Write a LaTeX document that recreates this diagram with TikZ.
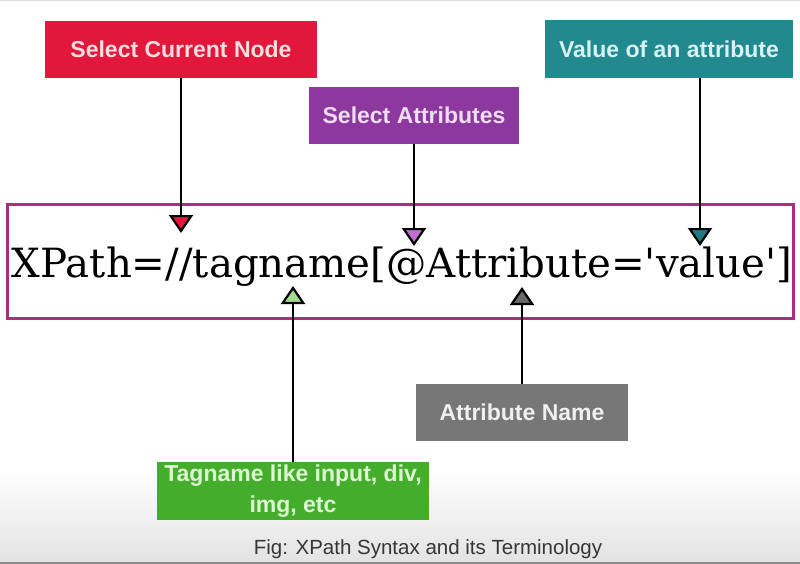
\documentclass[tikz,border=0pt]{standalone}
\usepackage{fontspec}
\usepackage{graphicx}
\usetikzlibrary{arrows.meta}
\newfontfamily\boxfont{Liberation Sans}
\newfontfamily\pathfont{DejaVu Serif}
\definecolor{curred}{HTML}{E1173B}
\definecolor{curredtxt}{HTML}{F8DCE0}
\definecolor{attrpurple}{HTML}{8C389F}
\definecolor{attrpurpletxt}{HTML}{EEDDF3}
\definecolor{attrtip}{HTML}{BE6FD0}
\definecolor{valteal}{HTML}{228A8E}
\definecolor{valtealtxt}{HTML}{D6F3F3}
\definecolor{valtip}{HTML}{1F7C84}
\definecolor{namegray}{HTML}{777777}
\definecolor{namegraytxt}{HTML}{F0F0F0}
\definecolor{nametip}{HTML}{6A6A6A}
\definecolor{taggreen}{HTML}{44AE2C}
\definecolor{taggreentxt}{HTML}{DDF6D2}
\definecolor{tagtip}{HTML}{A3D98E}
\definecolor{framepink}{HTML}{A92E7E}
\definecolor{captiongray}{HTML}{363636}

\begin{document}
\begin{tikzpicture}[x=1pt, y=-1pt,
        tagbox/.style={inner sep=0pt, align=center, minimum height=57pt,
            font=\boxfont\bfseries\fontsize{23pt}{31pt}\selectfont},
        pointer/.style={line width=2.2pt, -{Triangle[width=24pt, length=18pt, fill=#1]}}]
        \useasboundingbox (0, 0) rectangle (800, 564);
        \fill[white] (0, 0) rectangle (800, 564);
        \shade[top color=white, bottom color=black!11] (0, 470) rectangle (800, 562);
        \draw[black!45, line width=1.5pt] (0, 563) -- (800, 563);
        \draw[black!12, line width=1pt] (0, 0.5) -- (800, 0.5);

        \node[draw=framepink, line width=3pt, minimum width=786pt, minimum height=113pt, inner sep=0pt] (frame) at (400, 261.5) {};
        \node[anchor=base, inner sep=0pt] (xpath) at (402, 277) {\resizebox{780pt}{!}{\pathfont XPath=//tagname[@Attribute=\textquotesingle value\textquotesingle]}};

        \node[tagbox, fill=curred, text=curredtxt, minimum width=272pt] (curnode) at (181, 49.5) {Select Current Node};
        \node[tagbox, fill=attrpurple, text=attrpurpletxt, minimum width=210pt] (attrsel) at (414, 115.5) {Select Attributes};
        \node[tagbox, fill=valteal, text=valtealtxt, minimum width=248pt, minimum height=58pt] (attrval) at (669, 49) {Value of an attribute};
        \node[tagbox, fill=namegray, text=namegraytxt, minimum width=212pt] (attrname) at (522, 412.5) {Attribute Name};
        \node[tagbox, fill=taggreen, text=taggreentxt, minimum width=272pt, minimum height=58pt] (tagname) at (293, 491) {Tagname like input, div,\\img, etc};
        \node[anchor=base, inner sep=0pt, text=captiongray, font=\boxfont\fontsize{20.5pt}{24pt}\selectfont] (caption) at (428, 554) {Fig: XPath Syntax and its Terminology};

        \coordinate (curtip) at (181, 233);
        \coordinate (seltip) at (414, 246);
        \coordinate (valtip) at (700, 246);
        \coordinate (tagtip) at (293, 286);
        \coordinate (nametip) at (522, 287);

        \draw[pointer=curred] (curnode.south) -- (curtip);
        \draw[pointer=attrtip] (attrsel.south) -- (seltip);
        \draw[pointer=valtip] (attrval.south -| valtip) -- (valtip);
        \draw[pointer=tagtip] (tagname.north) -- (tagtip);
        \draw[pointer=nametip] (attrname.north) -- (nametip);
    \end{tikzpicture}
\end{document}
